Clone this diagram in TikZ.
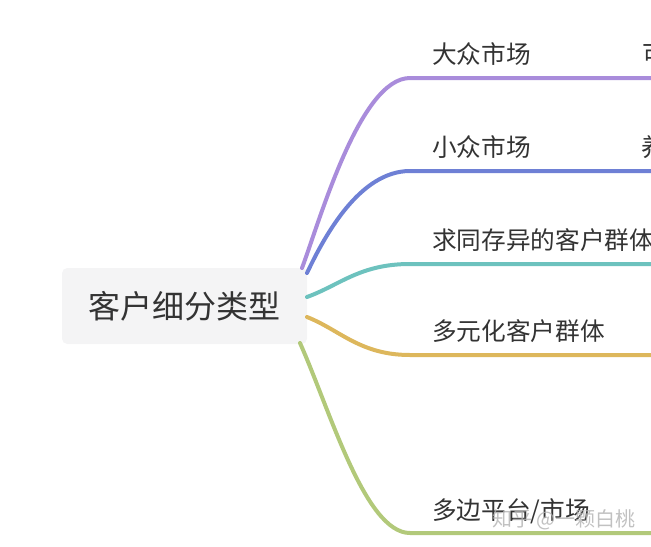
\documentclass[tikz,border=0pt]{standalone}
\usepackage{fontspec}
\setmainfont{Noto Sans CJK SC}
\usepackage{tikz}
\definecolor{textgray}{HTML}{333333}
\definecolor{rootfill}{HTML}{F4F4F5}
\definecolor{brpurple}{HTML}{A98CDB}
\definecolor{brblue}{HTML}{6E80D5}
\definecolor{brteal}{HTML}{6DC2BE}
\definecolor{bryellow}{HTML}{DDB75C}
\definecolor{brgreen}{HTML}{B2C97A}
\begin{document}
\begin{tikzpicture}[x=0.75pt,y=-0.75pt]
\tikzstyle{every node}+=[inner sep=0pt,text=textgray]
\tikzstyle{branch}=[line width=3pt,line cap=round]
\tikzstyle{leaf}=[anchor=base west,font=\fontsize{18.5pt}{20pt}\selectfont]
\useasboundingbox (0,0) rectangle (651,547);
\node [fill=rootfill,rounded corners=4pt,minimum width=183.75pt,minimum height=57pt,font=\fontsize{24pt}{26pt}\selectfont] (root) at (184.5,306) {客户细分类型};
\coordinate (s1) at (302,268);
\coordinate (s2) at (307,273);
\coordinate (s3) at (307,297);
\coordinate (s4) at (307,317);
\coordinate (s5) at (300,343);
\coordinate (e1) at (410,78);
\coordinate (e2) at (410,171);
\coordinate (e3) at (410,264);
\coordinate (e4) at (410,355);
\coordinate (e5) at (410,533);
\coordinate (r1) at (660,78);
\coordinate (r2) at (660,171);
\coordinate (r3) at (660,264);
\coordinate (r4) at (660,355);
\coordinate (r5) at (660,533);
\draw [branch,brpurple] (s1) .. controls (320,220) and (360,78) .. (e1) -- (r1);
\draw [branch,brblue] (s2) .. controls (325,235) and (360,171) .. (e2) -- (r2);
\draw [branch,brteal] (s3) .. controls (340,285) and (360,264) .. (e3) -- (r3);
\draw [branch,bryellow] (s4) .. controls (340,330) and (360,355) .. (e4) -- (r4);
\draw [branch,brgreen] (s5) .. controls (330,410) and (365,533) .. (e5) -- (r5);
\node [leaf] (mass) at (432,63) {大众市场};
\node [leaf] (niche) at (432,156) {小众市场};
\node [leaf] (segmented) at (432,249) {求同存异的客户群体};
\node [leaf] (diverse) at (432,340) {多元化客户群体};
\node [leaf] (platform) at (432,519) {多边平台/市场};
\node [leaf] (massnext) at (642,63) {可};
\node [leaf] (nichenext) at (641,156) {养};
\node [anchor=base west,text=black!30,opacity=0.8,font=\fontsize{15pt}{16pt}\selectfont] (mark) at (492,526) {知乎 @一颗白桃};
\end{tikzpicture}
\end{document}
